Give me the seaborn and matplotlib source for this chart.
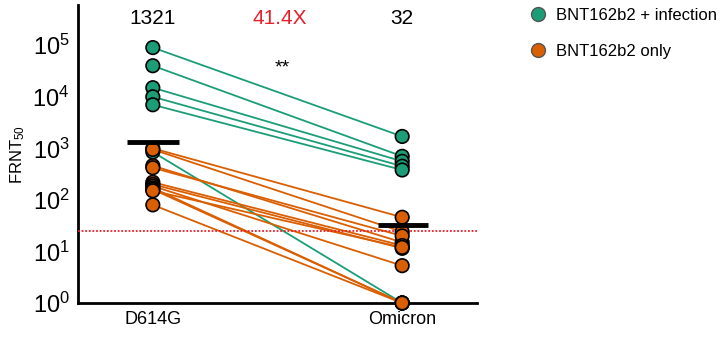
import numpy as np
import pandas as pd
import seaborn as sns
import matplotlib.pyplot as plt
from matplotlib.lines import Line2D

# ---------------------------------------------------------------------------
# Data (FRNT50 titres, paired per subject)
# ---------------------------------------------------------------------------
variants = ["D614G", "Omicron"]
groups = ["BNT162b2 + infection", "BNT162b2 only"]

infected_d614g = [90000, 40000, 15000, 10000, 7000, 850]
infected_omicron = [1700, 700, 560, 450, 380, 1]

only_d614g = [1000, 950, 460, 420, 220, 200, 185, 170, 160, 150, 80]
only_omicron = [46, 24, 15, 20, 13, 11.5, 5.3, 1, 1, 12, 1]

gmt_values = [1321, 32]
gmt_labels = ["1321", "32"]
fold_label = "41.4X"
signif_label = "**"
lod = 25

# ---------------------------------------------------------------------------
# Long-format table
# ---------------------------------------------------------------------------
rows = []
sid = 0
for grp, d_vals, o_vals in [(groups[0], infected_d614g, infected_omicron),
                            (groups[1], only_d614g, only_omicron)]:
    for d, o in zip(d_vals, o_vals):
        rows.append({"subject": sid, "group": grp, "pos": 0, "titre": d})
        rows.append({"subject": sid, "group": grp, "pos": 1, "titre": o})
        sid += 1
df = pd.DataFrame(rows)

palette = dict(zip(groups, sns.color_palette("Dark2", 2)))

sns.set_style("white")
plt.rcParams["font.family"] = ["Liberation Sans", "DejaVu Sans"]
plt.rcParams["mathtext.fontset"] = "custom"
plt.rcParams["mathtext.rm"] = "Liberation Sans"
plt.rcParams["mathtext.it"] = "Liberation Sans"
plt.rcParams["text.color"] = "black"
plt.rcParams["axes.labelcolor"] = "black"

fig = plt.figure(figsize=(7.28, 3.39), dpi=100)
ax = fig.add_axes([78 / 728, 1 - 303 / 339, (477 - 78) / 728, (303 - 5) / 339])

sns.lineplot(data=df, x="pos", y="titre", units="subject", estimator=None,
             hue="group", palette=palette, legend=False, lw=1.3, ax=ax, zorder=2)
sns.scatterplot(data=df, x="pos", y="titre", hue="group", palette=palette,
                s=95, edgecolor="black", linewidth=1.2, legend=False, ax=ax,
                zorder=4, clip_on=False)

ax.set_yscale("log")
ax.set_ylim(1, 10 ** 5.78)
ax.set_xlim(-0.30, 1.30)

# geometric mean bars
ax.hlines(gmt_values, [-0.105, 0.905], [0.105, 1.105], color="black", lw=3.5, zorder=5)

# limit of detection
ax.axhline(lod, color="#e8202a", ls=(0, (1, 1)), lw=1.3, zorder=3)

# annotations
for i, lab in enumerate(gmt_labels):
    ax.text(i, 10 ** 5.52, lab, ha="center", va="center", fontsize=15)
ax.text(0.51, 10 ** 5.52, fold_label, ha="center", va="center", fontsize=15, color="#e8202a")
ax.text(0.52, 10 ** 4.56, signif_label, ha="center", va="center", fontsize=14)

ax.set_xticks([0, 1])
ax.set_xticklabels(variants, fontsize=13)
ax.set_yticks([10 ** k for k in range(6)])
ax.set_yticklabels([f"$10^{{{k}}}$" for k in range(6)], fontsize=17)
ax.yaxis.set_minor_locator(plt.NullLocator())
ax.tick_params(direction="in", length=4, width=1.3, colors="black", pad=6)
ax.set_xlabel("")
ax.set_ylabel("FRNT$_{50}$", fontsize=12, labelpad=4)

sns.despine(ax=ax)
for side in ["left", "bottom"]:
    ax.spines[side].set_linewidth(2)
    ax.spines[side].set_color("black")

handles = [Line2D([], [], marker="o", ls="", markersize=10,
                  markerfacecolor=palette[g], markeredgecolor="#555555",
                  markeredgewidth=1.0) for g in groups]
fig.legend(handles, groups, loc="upper left", bbox_to_anchor=(528 / 728, 1 - 8 / 339),
           frameon=False, fontsize=12, handletextpad=0.45, labelspacing=1.25,
           handlelength=1.2, borderpad=0, borderaxespad=0)

fig.savefig("out.png", dpi=100)
